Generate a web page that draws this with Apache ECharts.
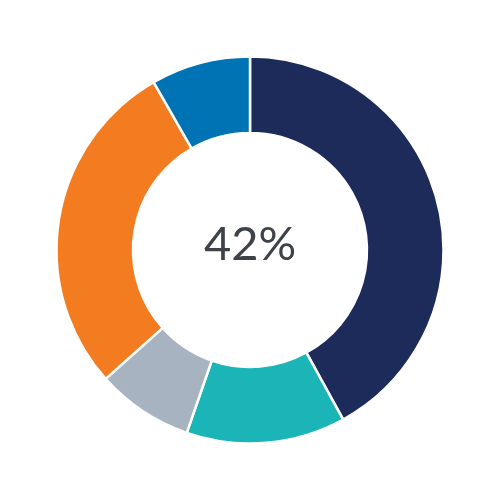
<!DOCTYPE html>
<html>
<head>
<meta charset="utf-8">
<script src="https://cdn.jsdelivr.net/npm/echarts@6/dist/echarts.min.js"></script>
<style>html,body{margin:0;padding:0;background:#fff}#c{width:500px;height:500px}</style>
</head>
<body>
<div id="c"></div>
<script>
const categories = ['A', 'B', 'C', 'D', 'E'];
const values = [42, 13.3, 8.1, 28.3, 8.3];
const colors = ['#1c2b5a', '#1bb5b8', '#a8b3c1', '#f47c20', '#0073b4'];
const centerText = '42%';

const chart = echarts.init(document.getElementById('c'), null, {renderer: 'canvas'});
chart.setOption({
  animation: false,
  backgroundColor: '#ffffff',
  graphic: [{
    type: 'text',
    left: 'center',
    top: 221,
    style: {text: centerText, fontFamily: 'Lato', fontWeight: 400, fontSize: 47, fill: '#3e4349'}
  }],
  series: [{
    type: 'pie',
    center: ['50%', '50%'],
    radius: ['46.8%', '77.4%'],
    startAngle: 90,
    clockwise: true,
    label: {show: false},
    labelLine: {show: false},
    emphasis: {disabled: true},
    itemStyle: {borderColor: '#ffffff', borderWidth: 2.5},
    data: categories.map((c, i) => ({name: c, value: values[i], itemStyle: {color: colors[i]}}))
  }]
});
</script>
</body>
</html>
